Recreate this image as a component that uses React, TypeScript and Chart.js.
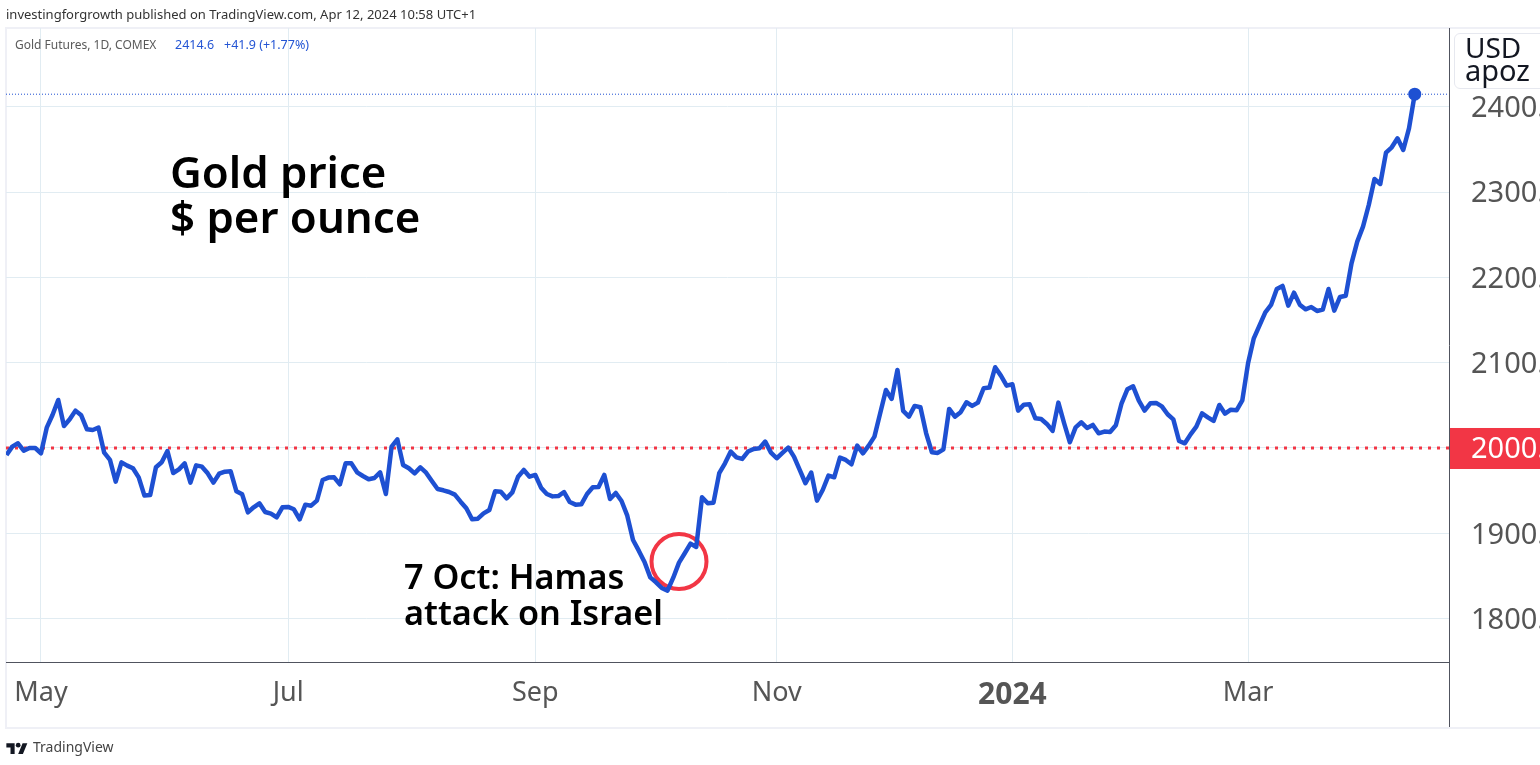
import React, { useEffect, useRef } from "react";
import { Chart, registerables } from "chart.js";

Chart.register(...registerables);

const FONT = '"Noto Sans", sans-serif';
const BLUE = "#1e50d2";
const RED = "#f23645";
const GRID = "#e1ecf2";
const AXIS = "#50535e";
const TICK_TEXT = "#555555";

const prices = [
  1991.8, 2001.6, 2005.5, 1996.9, 2000, 2000, 1993.8, 2023.8, 2038.7, 2056.3,
  2025.8, 2033.6, 2043.8, 2038.3, 2021.9, 2021.1, 2023.8, 1994.5, 1986, 1960.6,
  1983.2, 1979.3, 1976.2, 1965.6, 1944.2, 1945, 1977.4, 1983.2, 1996.5, 1970.7,
  1975, 1982, 1959.4, 1979.7, 1978.1, 1970.3, 1959.4, 1969.9, 1972.3, 1972.7,
  1949.2, 1945.7, 1924.6, 1930.5, 1935.2, 1925, 1923, 1918.8, 1930.5, 1930.9,
  1928.2, 1916.4, 1933.6, 1932.4, 1938.3, 1962.5, 1965.3, 1965.6, 1957.4, 1982,
  1982, 1971.5, 1967.2, 1963.3, 1964.8, 1971.5, 1946.1, 2001.6, 2010.1, 1980.1,
  1976.2, 1970.3, 1977.3, 1971.1, 1961.3, 1951.9, 1950.4, 1948.4, 1945.3, 1937.1,
  1929.3, 1916.4, 1917.2, 1923.4, 1927.3, 1949.2, 1948.8, 1941, 1948, 1966.4,
  1974.2, 1966.4, 1968.4, 1953.5, 1946.1, 1943.3, 1943.7, 1948.4, 1936.7, 1933.6,
  1934, 1946.1, 1953.9, 1954.3, 1968.4, 1940.2, 1947.3, 1937.9, 1920.7, 1892.2,
  1879.7, 1866.4, 1848.4, 1842.6, 1835.9, 1832.8, 1848, 1865.6, 1876.6, 1887.9,
  1884, 1942.2, 1935.2, 1935.9, 1970.5, 1982.1, 1995.8, 1989.1, 1987.2, 1995.8,
  1998.9, 1999.7, 2007.5, 1994.6, 1988, 1994.2, 2000.5, 1989.9, 1974.3, 1958.7,
  1971.2, 1938.3, 1950.8, 1967.6, 1965.7, 1988.7, 1986, 1980.9, 2002.8, 1993.8,
  2002.8, 2013.3, 2040.7, 2068, 2057.5, 2091.5, 2043.4, 2036.8, 2049.3, 2047.7,
  2017.2, 1995, 1994.2, 1998.5, 2045.8, 2036.8, 2041.9, 2053.6, 2049.3, 2053.2,
  2070, 2070.8, 2094.6, 2084.8, 2073.1, 2074.7, 2043.8, 2050.8, 2051.2, 2034.8,
  2034, 2028.2, 2020, 2053.2, 2029, 2006.7, 2024.2, 2030.1, 2023.4, 2027,
  2017.2, 2019.2, 2018.8, 2026.6, 2052.4, 2068.8, 2072.3, 2055.5, 2043.8, 2052.4,
  2052.8, 2048.8, 2039.5, 2033.6, 2008.2, 2005.5, 2016, 2025, 2040.6, 2036,
  2031.7, 2050.4, 2040.2, 2044.9, 2044.2, 2055.9, 2099.2, 2128.5, 2143.8, 2159,
  2167.6, 2186.3, 2189.9, 2166.8, 2182, 2168, 2162.5, 2165.2, 2160.6, 2162.1,
  2186.3, 2161, 2177, 2178.5, 2216.4, 2241.8, 2259.4, 2284.8, 2315.2, 2309.4,
  2346.1, 2352.4, 2362.9, 2349.2, 2374.6, 2414.6,
];

const monthBars = [6, 49, 92, 134, 175, 216];
const monthLabels = ["May", "Jul", "Sep", "Nov", "2024", "Mar"];
const yearBar = 175;

const xRange = [-0.087, 250.96];
const yRange = [1749.2, 2492.2];
const refPrice = 2000;
const lastPrice = 2414.6;
const eventBar = 117;
const eventPrice = 1866.9;

const overlayText = (left: number, top: number, size: number, color: string, weight = 400): React.CSSProperties => ({
  position: "absolute",
  left,
  top,
  fontFamily: FONT,
  fontSize: size,
  color,
  fontWeight: weight,
  lineHeight: 1,
  whiteSpace: "nowrap",
});

const frame = {
  id: "frame",
  beforeDraw(chart: any) {
    const { ctx, chartArea, scales } = chart;
    ctx.save();
    ctx.fillStyle = "#ffffff";
    ctx.fillRect(0, 0, chart.width, chart.height);
    ctx.strokeStyle = "#eff0f6";
    ctx.lineWidth = 2;
    ctx.strokeRect(6, 28, 1540, 700);
    // red price label behind the 2000 tick
    const y = scales.y.getPixelForValue(refPrice);
    ctx.fillStyle = RED;
    ctx.fillRect(chartArea.right + 1, y - 20, 91, 41);
    ctx.restore();
  },
  afterDraw(chart: any) {
    const { ctx, chartArea } = chart;
    ctx.save();
    ctx.strokeStyle = AXIS;
    ctx.lineWidth = 1;
    ctx.beginPath();
    ctx.moveTo(chartArea.right + 0.5, chartArea.bottom);
    ctx.lineTo(chartArea.right + 0.5, 727);
    ctx.stroke();
    ctx.restore();
  },
};

export default function App() {
  const chartRef = useRef<HTMLCanvasElement>(null);

  useEffect(() => {
    document.body.style.margin = "0";
    if (!chartRef.current) return;

    const lastBar = prices.length - 1;
    const chart = new Chart(chartRef.current, {
      type: "line",
      data: {
        datasets: [
          {
            label: "Gold Futures",
            data: prices.map((y, x) => ({ x, y })),
            borderColor: BLUE,
            backgroundColor: BLUE,
            borderWidth: 4.5,
            borderJoinStyle: "round",
            tension: 0,
            pointRadius: (c: any) => (c.dataIndex === lastBar ? 6.5 : 0),
            pointBorderWidth: 0,
            order: 0,
          },
          {
            label: "Last price",
            data: [
              { x: xRange[0], y: lastPrice },
              { x: xRange[1], y: lastPrice },
            ],
            borderColor: BLUE,
            borderWidth: 1,
            borderDash: [1, 2],
            pointRadius: 0,
            order: 2,
          },
          {
            label: "2000",
            data: [
              { x: xRange[0], y: refPrice },
              { x: xRange[1], y: refPrice },
            ],
            borderColor: RED,
            borderWidth: 3,
            borderDash: [3, 6],
            pointRadius: 0,
            order: 1,
          },
          {
            label: "7 Oct",
            data: [{ x: eventBar, y: eventPrice }],
            showLine: false,
            pointRadius: 27.5,
            pointBorderWidth: 4,
            pointBorderColor: RED,
            pointBackgroundColor: "rgba(0,0,0,0)",
            order: 3,
          },
        ],
      },
      options: {
        animation: false,
        responsive: false,
        devicePixelRatio: 1,
        layout: { autoPadding: false, padding: { left: 6, top: 28, bottom: 37, right: 0 } },
        plugins: { legend: { display: false }, title: { display: false }, tooltip: { enabled: false } },
        scales: {
          x: {
            type: "linear",
            min: xRange[0],
            max: xRange[1],
            afterBuildTicks: (axis: any) => {
              axis.ticks = monthBars.map((value) => ({ value }));
            },
            afterFit: (axis: any) => {
              axis.height = 66;
              axis.paddingLeft = 0;
              axis.paddingRight = 0;
            },
            grid: { color: GRID, drawTicks: false },
            border: { color: AXIS },
            ticks: {
              autoSkip: false,
              maxRotation: 0,
              padding: 15,
              color: TICK_TEXT,
              font: (c: any) =>
                c.tick && c.tick.value === yearBar
                  ? { family: FONT, size: 30, weight: "bold" }
                  : { family: FONT, size: 27, weight: "normal" },
              callback: (value: any) => monthLabels[monthBars.indexOf(value)] ?? "",
            },
          },
          y: {
            position: "right",
            min: yRange[0],
            max: yRange[1],
            afterFit: (axis: any) => {
              axis.width = 91;
              axis.paddingTop = 0;
              axis.paddingBottom = 0;
            },
            grid: { color: GRID, drawTicks: false },
            border: { color: AXIS },
            ticks: {
              stepSize: 100,
              includeBounds: false,
              padding: 22,
              labelOffset: 2,
              color: (c: any) => (c.tick && c.tick.value === refPrice ? "#ffffff" : TICK_TEXT),
              font: { family: FONT, size: 29 },
              callback: (value: any) => Number(value).toFixed(1),
            },
          },
        },
      },
      plugins: [frame],
    } as any);

    return () => {
      chart.destroy();
    };
  }, []);

  return (
    <div style={{ position: "relative", width: 1540, height: 765, overflow: "hidden", background: "#fff" }}>
      <canvas ref={chartRef} width={1540} height={765} style={{ display: "block" }} />

      <div style={overlayText(6, 8, 13, "#333333")}>
        investingforgrowth published on TradingView.com, Apr 12, 2024 10:58 UTC+1
      </div>

      <div style={overlayText(15, 39, 12, "#5a5a5a")}>Gold Futures, 1D, COMEX</div>
      <div style={overlayText(175, 39, 12.5, "#2455d4")}>2414.6</div>
      <div style={overlayText(224, 39, 12.5, "#2455d4")}>+41.9 (+1.77%)</div>

      <div style={overlayText(170, 150, 43.8, "#000000", 600)}>Gold price</div>
      <div style={overlayText(170, 195, 43.8, "#000000", 600)}>$ per ounce</div>

      <div style={overlayText(404, 559, 34.2, "#000000", 600)}>7 Oct: Hamas</div>
      <div style={overlayText(404, 595, 34.2, "#000000", 600)}>attack on Israel</div>

      <div
        style={{
          position: "absolute",
          left: 1454,
          top: 33,
          width: 100,
          height: 54,
          background: "#fff",
          border: "1px solid #e6e8ef",
          borderRadius: 6,
        }}
      />
      <div style={overlayText(1465, 33, 28, "#131722")}>USD</div>
      <div style={overlayText(1465, 55, 29, "#131722")}>apoz</div>

      <svg style={{ position: "absolute", left: 6, top: 741 }} width="22" height="13" viewBox="0 0 36 22">
        <path d="M14 22H7V11H0V4h14v18ZM28 22h-8l7.5-18h8L28 22Z" fill="#131722" />
        <circle cx="20" cy="7" r="4" fill="#131722" />
      </svg>
      <div style={overlayText(33, 740, 14, "#444444")}>TradingView</div>
    </div>
  );
}
